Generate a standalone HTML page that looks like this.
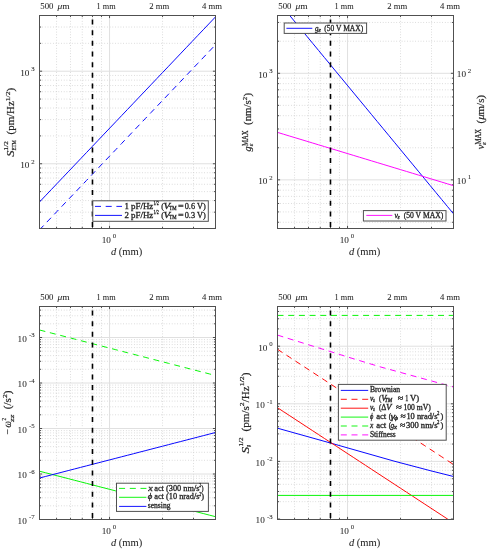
<!DOCTYPE html>
<html><head><meta charset="utf-8"><style>
html,body{margin:0;padding:0;background:#fff;width:490px;height:550px;overflow:hidden}
svg{display:block;filter:blur(0.45px)}
text{font-family:"Liberation Serif",serif;fill:#262626;stroke:#262626;stroke-width:0.05px}
.yl text{stroke-width:0.2px}
.lg{stroke-width:0.3px}
</style></head><body>
<svg width="490" height="550" viewBox="0 0 490 550">
<rect width="490" height="550" fill="#fff"/>
<defs><clipPath id="cp1"><rect x="39.5" y="15.5" width="176" height="213"/></clipPath><clipPath id="cp2"><rect x="277.5" y="15.5" width="176" height="213"/></clipPath><clipPath id="cp3"><rect x="39.5" y="306.5" width="176" height="213"/></clipPath><clipPath id="cp4"><rect x="277.5" y="306.5" width="176" height="213"/></clipPath></defs>
<path d="M56.56 15.5V228.5M70.49 15.5V228.5M82.27 15.5V228.5M92.48 15.5V228.5M101.48 15.5V228.5M162.52 15.5V228.5M193.51 15.5V228.5M39.5 212.16H215.5M39.5 200.59H215.5M39.5 191.62H215.5M39.5 184.29H215.5M39.5 178.1H215.5M39.5 172.73H215.5M39.5 168H215.5M39.5 135.9H215.5M39.5 119.6H215.5M39.5 108.03H215.5M39.5 99.06H215.5M39.5 91.73H215.5M39.5 85.54H215.5M39.5 80.17H215.5M39.5 75.44H215.5M39.5 43.34H215.5M39.5 27.04H215.5" stroke="#cacaca" stroke-width="0.8" stroke-dasharray="0.8 1.9" fill="none"/>
<path d="M109.54 15.5V228.5M39.5 163.76H215.5M39.5 71.2H215.5" stroke="#e0e0e0" stroke-width="1" fill="none"/>
<path d="M56.56 228.5v-1.6M56.56 15.5v1.6M70.49 228.5v-1.6M70.49 15.5v1.6M82.27 228.5v-1.6M82.27 15.5v1.6M92.48 228.5v-1.6M92.48 15.5v1.6M101.48 228.5v-1.6M101.48 15.5v1.6M162.52 228.5v-1.6M162.52 15.5v1.6M193.51 228.5v-1.6M193.51 15.5v1.6M215.5 228.5v-1.6M215.5 15.5v1.6M109.54 228.5v-2.6M109.54 15.5v2.6M39.5 228.46h1.6M215.5 228.46h-1.6M39.5 212.16h1.6M215.5 212.16h-1.6M39.5 200.59h1.6M215.5 200.59h-1.6M39.5 191.62h1.6M215.5 191.62h-1.6M39.5 184.29h1.6M215.5 184.29h-1.6M39.5 178.1h1.6M215.5 178.1h-1.6M39.5 172.73h1.6M215.5 172.73h-1.6M39.5 168h1.6M215.5 168h-1.6M39.5 135.9h1.6M215.5 135.9h-1.6M39.5 119.6h1.6M215.5 119.6h-1.6M39.5 108.03h1.6M215.5 108.03h-1.6M39.5 99.06h1.6M215.5 99.06h-1.6M39.5 91.73h1.6M215.5 91.73h-1.6M39.5 85.54h1.6M215.5 85.54h-1.6M39.5 80.17h1.6M215.5 80.17h-1.6M39.5 75.44h1.6M215.5 75.44h-1.6M39.5 43.34h1.6M215.5 43.34h-1.6M39.5 27.04h1.6M215.5 27.04h-1.6M39.5 163.76h2.6M215.5 163.76h-2.6M39.5 71.2h2.6M215.5 71.2h-2.6" stroke="#505050" stroke-width="1" fill="none"/>
<g clip-path="url(#cp1)">
<path d="M39.5 202L45.37 195.83L51.23 189.66L57.1 183.49L62.97 177.32L68.83 171.15L74.7 164.98L80.57 158.81L86.43 152.64L92.3 146.46L98.17 140.29L104.03 134.12L109.9 127.95L115.77 121.78L121.63 115.61L127.5 109.44L133.37 103.27L139.23 97.1L145.1 90.93L150.97 84.76L156.83 78.59L162.7 72.42L168.57 66.25L174.43 60.08L180.3 53.9L186.17 47.73L192.03 41.56L197.9 35.39L203.77 29.22L209.63 23.05L215.5 16.88" stroke="#0808ff" stroke-width="1.0" fill="none"/>
<path d="M39.5 229.86L45.37 223.69L51.23 217.52L57.1 211.35L62.97 205.18L68.83 199.01L74.7 192.84L80.57 186.67L86.43 180.5L92.3 174.33L98.17 168.16L104.03 161.99L109.9 155.82L115.77 149.65L121.63 143.47L127.5 137.3L133.37 131.13L139.23 124.96L145.1 118.79L150.97 112.62L156.83 106.45L162.7 100.28L168.57 94.11L174.43 87.94L180.3 81.77L186.17 75.6L192.03 69.43L197.9 63.26L203.77 57.09L209.63 50.91L215.5 44.74" stroke="#0808ff" stroke-width="1.0" fill="none" stroke-dasharray="6 4.7"/>
<path d="M92.48 15.5V228.5" stroke="#000" stroke-width="1.6" stroke-dasharray="5 5.66" stroke-dashoffset="6.66" fill="none"/>
</g>
<rect x="39.5" y="15.5" width="176" height="213" fill="none" stroke="#505050" stroke-width="1"/>
<path d="M294.56 15.5V228.5M308.49 15.5V228.5M320.27 15.5V228.5M330.48 15.5V228.5M339.48 15.5V228.5M400.52 15.5V228.5M431.51 15.5V228.5M277.5 222.25H453.5M277.5 211.92H453.5M277.5 203.49H453.5M277.5 196.35H453.5M277.5 190.18H453.5M277.5 184.73H453.5M277.5 147.78H453.5M277.5 129.01H453.5M277.5 115.7H453.5M277.5 105.37H453.5M277.5 96.94H453.5M277.5 89.8H453.5M277.5 83.63H453.5M277.5 78.18H453.5M277.5 41.23H453.5M277.5 22.46H453.5" stroke="#cacaca" stroke-width="0.8" stroke-dasharray="0.8 1.9" fill="none"/>
<path d="M347.54 15.5V228.5M277.5 179.85H453.5M277.5 73.3H453.5" stroke="#e0e0e0" stroke-width="1" fill="none"/>
<path d="M294.56 228.5v-1.6M294.56 15.5v1.6M308.49 228.5v-1.6M308.49 15.5v1.6M320.27 228.5v-1.6M320.27 15.5v1.6M330.48 228.5v-1.6M330.48 15.5v1.6M339.48 228.5v-1.6M339.48 15.5v1.6M400.52 228.5v-1.6M400.52 15.5v1.6M431.51 228.5v-1.6M431.51 15.5v1.6M453.5 228.5v-1.6M453.5 15.5v1.6M347.54 228.5v-2.6M347.54 15.5v2.6M277.5 222.25h1.6M277.5 211.92h1.6M277.5 203.49h1.6M277.5 196.35h1.6M277.5 190.18h1.6M277.5 184.73h1.6M277.5 147.78h1.6M277.5 129.01h1.6M277.5 115.7h1.6M277.5 105.37h1.6M277.5 96.94h1.6M277.5 89.8h1.6M277.5 83.63h1.6M277.5 78.18h1.6M277.5 41.23h1.6M277.5 22.46h1.6M277.5 179.85h2.6M277.5 73.3h2.6M453.5 222.25h-1.6M453.5 211.92h-1.6M453.5 203.49h-1.6M453.5 196.35h-1.6M453.5 190.18h-1.6M453.5 184.73h-1.6M453.5 147.78h-1.6M453.5 129.01h-1.6M453.5 115.7h-1.6M453.5 105.37h-1.6M453.5 96.94h-1.6M453.5 89.8h-1.6M453.5 83.63h-1.6M453.5 78.18h-1.6M453.5 41.23h-1.6M453.5 22.46h-1.6M453.5 179.85h-2.6M453.5 73.3h-2.6" stroke="#505050" stroke-width="1" fill="none"/>
<g clip-path="url(#cp2)">
<path d="M277.5 0.71L283.37 7.82L289.23 14.92L295.1 22.02L300.97 29.13L306.83 36.23L312.7 43.33L318.57 50.44L324.43 57.54L330.3 64.64L336.17 71.75L342.03 78.85L347.9 85.95L353.77 93.06L359.63 100.16L365.5 107.26L371.37 114.37L377.23 121.47L383.1 128.57L388.97 135.68L394.83 142.78L400.7 149.88L406.57 156.99L412.43 164.09L418.3 171.19L424.17 178.3L430.03 185.4L435.9 192.5L441.77 199.61L447.63 206.71L453.5 213.81" stroke="#0808ff" stroke-width="1.0" fill="none"/>
<path d="M277.5 132.39L283.37 134.16L289.23 135.94L295.1 137.71L300.97 139.49L306.83 141.26L312.7 143.04L318.57 144.82L324.43 146.59L330.3 148.37L336.17 150.14L342.03 151.92L347.9 153.7L353.77 155.47L359.63 157.25L365.5 159.02L371.37 160.8L377.23 162.57L383.1 164.35L388.97 166.13L394.83 167.9L400.7 169.68L406.57 171.45L412.43 173.23L418.3 175.01L424.17 176.78L430.03 178.56L435.9 180.33L441.77 182.11L447.63 183.88L453.5 185.66" stroke="#ff08ff" stroke-width="1.0" fill="none"/>
<path d="M330.48 15.5V228.5" stroke="#000" stroke-width="1.6" stroke-dasharray="5 5.66" stroke-dashoffset="6.66" fill="none"/>
</g>
<rect x="277.5" y="15.5" width="176" height="213" fill="none" stroke="#505050" stroke-width="1"/>
<path d="M56.56 306.5V519.5M70.49 306.5V519.5M82.27 306.5V519.5M92.48 306.5V519.5M101.48 306.5V519.5M162.52 306.5V519.5M193.51 306.5V519.5M39.5 505.8H215.5M39.5 497.79H215.5M39.5 492.11H215.5M39.5 487.7H215.5M39.5 484.09H215.5M39.5 481.05H215.5M39.5 478.41H215.5M39.5 476.08H215.5M39.5 460.3H215.5M39.5 452.29H215.5M39.5 446.61H215.5M39.5 442.2H215.5M39.5 438.59H215.5M39.5 435.55H215.5M39.5 432.91H215.5M39.5 430.58H215.5M39.5 414.8H215.5M39.5 406.79H215.5M39.5 401.11H215.5M39.5 396.7H215.5M39.5 393.09H215.5M39.5 390.05H215.5M39.5 387.41H215.5M39.5 385.08H215.5M39.5 369.3H215.5M39.5 361.29H215.5M39.5 355.61H215.5M39.5 351.2H215.5M39.5 347.59H215.5M39.5 344.55H215.5M39.5 341.91H215.5M39.5 339.58H215.5M39.5 323.8H215.5M39.5 315.79H215.5M39.5 310.11H215.5" stroke="#cacaca" stroke-width="0.8" stroke-dasharray="0.8 1.9" fill="none"/>
<path d="M109.54 306.5V519.5M39.5 474H215.5M39.5 428.5H215.5M39.5 383H215.5M39.5 337.5H215.5" stroke="#e0e0e0" stroke-width="1" fill="none"/>
<path d="M56.56 519.5v-1.6M56.56 306.5v1.6M70.49 519.5v-1.6M70.49 306.5v1.6M82.27 519.5v-1.6M82.27 306.5v1.6M92.48 519.5v-1.6M92.48 306.5v1.6M101.48 519.5v-1.6M101.48 306.5v1.6M162.52 519.5v-1.6M162.52 306.5v1.6M193.51 519.5v-1.6M193.51 306.5v1.6M215.5 519.5v-1.6M215.5 306.5v1.6M109.54 519.5v-2.6M109.54 306.5v2.6M39.5 505.8h1.6M215.5 505.8h-1.6M39.5 497.79h1.6M215.5 497.79h-1.6M39.5 492.11h1.6M215.5 492.11h-1.6M39.5 487.7h1.6M215.5 487.7h-1.6M39.5 484.09h1.6M215.5 484.09h-1.6M39.5 481.05h1.6M215.5 481.05h-1.6M39.5 478.41h1.6M215.5 478.41h-1.6M39.5 476.08h1.6M215.5 476.08h-1.6M39.5 460.3h1.6M215.5 460.3h-1.6M39.5 452.29h1.6M215.5 452.29h-1.6M39.5 446.61h1.6M215.5 446.61h-1.6M39.5 442.2h1.6M215.5 442.2h-1.6M39.5 438.59h1.6M215.5 438.59h-1.6M39.5 435.55h1.6M215.5 435.55h-1.6M39.5 432.91h1.6M215.5 432.91h-1.6M39.5 430.58h1.6M215.5 430.58h-1.6M39.5 414.8h1.6M215.5 414.8h-1.6M39.5 406.79h1.6M215.5 406.79h-1.6M39.5 401.11h1.6M215.5 401.11h-1.6M39.5 396.7h1.6M215.5 396.7h-1.6M39.5 393.09h1.6M215.5 393.09h-1.6M39.5 390.05h1.6M215.5 390.05h-1.6M39.5 387.41h1.6M215.5 387.41h-1.6M39.5 385.08h1.6M215.5 385.08h-1.6M39.5 369.3h1.6M215.5 369.3h-1.6M39.5 361.29h1.6M215.5 361.29h-1.6M39.5 355.61h1.6M215.5 355.61h-1.6M39.5 351.2h1.6M215.5 351.2h-1.6M39.5 347.59h1.6M215.5 347.59h-1.6M39.5 344.55h1.6M215.5 344.55h-1.6M39.5 341.91h1.6M215.5 341.91h-1.6M39.5 339.58h1.6M215.5 339.58h-1.6M39.5 323.8h1.6M215.5 323.8h-1.6M39.5 315.79h1.6M215.5 315.79h-1.6M39.5 310.11h1.6M215.5 310.11h-1.6M39.5 519.5h2.6M215.5 519.5h-2.6M39.5 474h2.6M215.5 474h-2.6M39.5 428.5h2.6M215.5 428.5h-2.6M39.5 383h2.6M215.5 383h-2.6M39.5 337.5h2.6M215.5 337.5h-2.6" stroke="#505050" stroke-width="1" fill="none"/>
<g clip-path="url(#cp3)">
<path d="M39.5 329.99L45.37 331.5L51.23 333.02L57.1 334.54L62.97 336.05L68.83 337.57L74.7 339.09L80.57 340.6L86.43 342.12L92.3 343.64L98.17 345.15L104.03 346.67L109.9 348.19L115.77 349.7L121.63 351.22L127.5 352.74L133.37 354.25L139.23 355.77L145.1 357.29L150.97 358.8L156.83 360.32L162.7 361.84L168.57 363.35L174.43 364.87L180.3 366.39L186.17 367.9L192.03 369.42L197.9 370.94L203.77 372.45L209.63 373.97L215.5 375.49" stroke="#08f508" stroke-width="1.0" fill="none" stroke-dasharray="6 4.7"/>
<path d="M39.5 471.2L45.37 472.71L51.23 474.23L57.1 475.75L62.97 477.26L68.83 478.78L74.7 480.3L80.57 481.81L86.43 483.33L92.3 484.85L98.17 486.36L104.03 487.88L109.9 489.4L115.77 490.91L121.63 492.43L127.5 493.95L133.37 495.46L139.23 496.98L145.1 498.5L150.97 500.01L156.83 501.53L162.7 503.05L168.57 504.56L174.43 506.08L180.3 507.6L186.17 509.11L192.03 510.63L197.9 512.15L203.77 513.66L209.63 515.18L215.5 516.7" stroke="#08f508" stroke-width="1.0" fill="none"/>
<path d="M39.5 478.02L45.37 476.5L51.23 474.98L57.1 473.47L62.97 471.95L68.83 470.43L74.7 468.92L80.57 467.4L86.43 465.88L92.3 464.37L98.17 462.85L104.03 461.33L109.9 459.82L115.77 458.3L121.63 456.78L127.5 455.27L133.37 453.75L139.23 452.23L145.1 450.72L150.97 449.2L156.83 447.68L162.7 446.17L168.57 444.65L174.43 443.13L180.3 441.62L186.17 440.1L192.03 438.58L197.9 437.07L203.77 435.55L209.63 434.03L215.5 432.52" stroke="#0808ff" stroke-width="1.0" fill="none"/>
<path d="M92.48 306.5V519.5" stroke="#000" stroke-width="1.6" stroke-dasharray="5 5.66" stroke-dashoffset="6.66" fill="none"/>
</g>
<rect x="39.5" y="306.5" width="176" height="213" fill="none" stroke="#505050" stroke-width="1"/>
<path d="M294.56 306.5V519.5M308.49 306.5V519.5M320.27 306.5V519.5M330.48 306.5V519.5M339.48 306.5V519.5M400.52 306.5V519.5M431.51 306.5V519.5M277.5 501.66H453.5M277.5 491.52H453.5M277.5 484.32H453.5M277.5 478.74H453.5M277.5 474.18H453.5M277.5 470.32H453.5M277.5 466.98H453.5M277.5 464.04H453.5M277.5 444.06H453.5M277.5 433.92H453.5M277.5 426.72H453.5M277.5 421.14H453.5M277.5 416.58H453.5M277.5 412.72H453.5M277.5 409.38H453.5M277.5 406.44H453.5M277.5 386.46H453.5M277.5 376.32H453.5M277.5 369.12H453.5M277.5 363.54H453.5M277.5 358.98H453.5M277.5 355.12H453.5M277.5 351.78H453.5M277.5 348.84H453.5M277.5 328.86H453.5M277.5 318.72H453.5M277.5 311.52H453.5" stroke="#cacaca" stroke-width="0.8" stroke-dasharray="0.8 1.9" fill="none"/>
<path d="M347.54 306.5V519.5M277.5 461.4H453.5M277.5 403.8H453.5M277.5 346.2H453.5" stroke="#e0e0e0" stroke-width="1" fill="none"/>
<path d="M294.56 519.5v-1.6M294.56 306.5v1.6M308.49 519.5v-1.6M308.49 306.5v1.6M320.27 519.5v-1.6M320.27 306.5v1.6M330.48 519.5v-1.6M330.48 306.5v1.6M339.48 519.5v-1.6M339.48 306.5v1.6M400.52 519.5v-1.6M400.52 306.5v1.6M431.51 519.5v-1.6M431.51 306.5v1.6M453.5 519.5v-1.6M453.5 306.5v1.6M347.54 519.5v-2.6M347.54 306.5v2.6M277.5 501.66h1.6M453.5 501.66h-1.6M277.5 491.52h1.6M453.5 491.52h-1.6M277.5 484.32h1.6M453.5 484.32h-1.6M277.5 478.74h1.6M453.5 478.74h-1.6M277.5 474.18h1.6M453.5 474.18h-1.6M277.5 470.32h1.6M453.5 470.32h-1.6M277.5 466.98h1.6M453.5 466.98h-1.6M277.5 464.04h1.6M453.5 464.04h-1.6M277.5 444.06h1.6M453.5 444.06h-1.6M277.5 433.92h1.6M453.5 433.92h-1.6M277.5 426.72h1.6M453.5 426.72h-1.6M277.5 421.14h1.6M453.5 421.14h-1.6M277.5 416.58h1.6M453.5 416.58h-1.6M277.5 412.72h1.6M453.5 412.72h-1.6M277.5 409.38h1.6M453.5 409.38h-1.6M277.5 406.44h1.6M453.5 406.44h-1.6M277.5 386.46h1.6M453.5 386.46h-1.6M277.5 376.32h1.6M453.5 376.32h-1.6M277.5 369.12h1.6M453.5 369.12h-1.6M277.5 363.54h1.6M453.5 363.54h-1.6M277.5 358.98h1.6M453.5 358.98h-1.6M277.5 355.12h1.6M453.5 355.12h-1.6M277.5 351.78h1.6M453.5 351.78h-1.6M277.5 348.84h1.6M453.5 348.84h-1.6M277.5 328.86h1.6M453.5 328.86h-1.6M277.5 318.72h1.6M453.5 318.72h-1.6M277.5 311.52h1.6M453.5 311.52h-1.6M277.5 519h2.6M453.5 519h-2.6M277.5 461.4h2.6M453.5 461.4h-2.6M277.5 403.8h2.6M453.5 403.8h-2.6M277.5 346.2h2.6M453.5 346.2h-2.6" stroke="#505050" stroke-width="1" fill="none"/>
<g clip-path="url(#cp4)">
<path d="M277.5 428.2L330 442.9L394 461.1L430 470.6L453.5 476.5" stroke="#0808ff" stroke-width="1.0" fill="none"/>
<path d="M277.5 349.31L283.37 353.15L289.23 356.99L295.1 360.83L300.97 364.67L306.83 368.51L312.7 372.35L318.57 376.19L324.43 380.03L330.3 383.87L336.17 387.71L342.03 391.55L347.9 395.39L353.77 399.23L359.63 403.07L365.5 406.91L371.37 410.75L377.23 414.59L383.1 418.43L388.97 422.27L394.83 426.11L400.7 429.95L406.57 433.79L412.43 437.63L418.3 441.47L424.17 445.31L430.03 449.15L435.9 452.99L441.77 456.83L447.63 460.67L453.5 464.51" stroke="#ff0808" stroke-width="1.0" fill="none" stroke-dasharray="6 4.7"/>
<path d="M277.5 407.72L283.37 411.56L289.23 415.4L295.1 419.24L300.97 423.08L306.83 426.92L312.7 430.76L318.57 434.6L324.43 438.44L330.3 442.28L336.17 446.12L342.03 449.96L347.9 453.8L353.77 457.64L359.63 461.48L365.5 465.32L371.37 469.16L377.23 473L383.1 476.84L388.97 480.68L394.83 484.52L400.7 488.36L406.57 492.2L412.43 496.04L418.3 499.88L424.17 503.72L430.03 507.56L435.9 511.4L441.77 515.24L447.63 519.08L453.5 522.92" stroke="#ff0808" stroke-width="1.0" fill="none"/>
<path d="M277.5 495.4H453.5" stroke="#08f508" stroke-width="1.0"/>
<path d="M277.5 315.4H453.5" stroke="#08f508" stroke-width="1.0" stroke-dasharray="6 4.7"/>
<path d="M277.5 335.1L352 358.3L380 366.8L453.5 387" stroke="#ff08ff" stroke-width="1.0" fill="none" stroke-dasharray="6 4.7"/>
<path d="M330.48 306.5V519.5" stroke="#000" stroke-width="1.6" stroke-dasharray="5 5.66" stroke-dashoffset="6.66" fill="none"/>
</g>
<rect x="277.5" y="306.5" width="176" height="213" fill="none" stroke="#505050" stroke-width="1"/>
<text x="40.3" y="9.4" font-size="9" textLength="13.2" lengthAdjust="spacingAndGlyphs">500</text>
<text x="57.4" y="9.4" font-size="9" textLength="12.2" lengthAdjust="spacingAndGlyphs"><tspan font-style="italic">μ</tspan>m</text>
<text x="96.6" y="9.4" font-size="9" textLength="19" lengthAdjust="spacingAndGlyphs">1 mm</text>
<text x="149.2" y="9.4" font-size="9" textLength="20" lengthAdjust="spacingAndGlyphs">2 mm</text>
<text x="201.9" y="9.4" font-size="9" textLength="20" lengthAdjust="spacingAndGlyphs">4 mm</text>
<text x="101.7" y="243" font-size="9.2">10<tspan font-size="6.8" dx="1.8" dy="-4.6">0</tspan></text>
<text x="110.9" y="254.8" font-size="10" textLength="31.4" lengthAdjust="spacingAndGlyphs"><tspan font-style="italic">d</tspan> (mm)</text>
<text x="278.3" y="9.4" font-size="9" textLength="13.2" lengthAdjust="spacingAndGlyphs">500</text>
<text x="295.4" y="9.4" font-size="9" textLength="12.2" lengthAdjust="spacingAndGlyphs"><tspan font-style="italic">μ</tspan>m</text>
<text x="334.6" y="9.4" font-size="9" textLength="19" lengthAdjust="spacingAndGlyphs">1 mm</text>
<text x="387.2" y="9.4" font-size="9" textLength="20" lengthAdjust="spacingAndGlyphs">2 mm</text>
<text x="439.9" y="9.4" font-size="9" textLength="20" lengthAdjust="spacingAndGlyphs">4 mm</text>
<text x="339.7" y="243" font-size="9.2">10<tspan font-size="6.8" dx="1.8" dy="-4.6">0</tspan></text>
<text x="348.9" y="254.8" font-size="10" textLength="31.4" lengthAdjust="spacingAndGlyphs"><tspan font-style="italic">d</tspan> (mm)</text>
<text x="40.3" y="300.4" font-size="9" textLength="13.2" lengthAdjust="spacingAndGlyphs">500</text>
<text x="57.4" y="300.4" font-size="9" textLength="12.2" lengthAdjust="spacingAndGlyphs"><tspan font-style="italic">μ</tspan>m</text>
<text x="96.6" y="300.4" font-size="9" textLength="19" lengthAdjust="spacingAndGlyphs">1 mm</text>
<text x="149.2" y="300.4" font-size="9" textLength="20" lengthAdjust="spacingAndGlyphs">2 mm</text>
<text x="201.9" y="300.4" font-size="9" textLength="20" lengthAdjust="spacingAndGlyphs">4 mm</text>
<text x="101.7" y="534" font-size="9.2">10<tspan font-size="6.8" dx="1.8" dy="-4.6">0</tspan></text>
<text x="110.9" y="545.8" font-size="10" textLength="31.4" lengthAdjust="spacingAndGlyphs"><tspan font-style="italic">d</tspan> (mm)</text>
<text x="278.3" y="300.4" font-size="9" textLength="13.2" lengthAdjust="spacingAndGlyphs">500</text>
<text x="295.4" y="300.4" font-size="9" textLength="12.2" lengthAdjust="spacingAndGlyphs"><tspan font-style="italic">μ</tspan>m</text>
<text x="334.6" y="300.4" font-size="9" textLength="19" lengthAdjust="spacingAndGlyphs">1 mm</text>
<text x="387.2" y="300.4" font-size="9" textLength="20" lengthAdjust="spacingAndGlyphs">2 mm</text>
<text x="439.9" y="300.4" font-size="9" textLength="20" lengthAdjust="spacingAndGlyphs">4 mm</text>
<text x="339.7" y="534" font-size="9.2">10<tspan font-size="6.8" dx="1.8" dy="-4.6">0</tspan></text>
<text x="348.9" y="545.8" font-size="10" textLength="31.4" lengthAdjust="spacingAndGlyphs"><tspan font-style="italic">d</tspan> (mm)</text>
<text x="34.6" y="75.6" font-size="9.2" text-anchor="end">10<tspan font-size="6.8" dx="1.8" dy="-4.6">3</tspan></text>
<text x="272.6" y="77.7" font-size="9.2" text-anchor="end">10<tspan font-size="6.8" dx="1.8" dy="-4.6">3</tspan></text>
<text x="34.6" y="168.16" font-size="9.2" text-anchor="end">10<tspan font-size="6.8" dx="1.8" dy="-4.6">2</tspan></text>
<text x="272.6" y="184.25" font-size="9.2" text-anchor="end">10<tspan font-size="6.8" dx="1.8" dy="-4.6">2</tspan></text>
<text x="456.8" y="77.3" font-size="9.2">10<tspan font-size="6.8" dx="1.8" dy="-4.6">2</tspan></text>
<text x="456.8" y="183.85" font-size="9.2">10<tspan font-size="6.8" dx="1.8" dy="-4.6">1</tspan></text>
<text x="34.6" y="341.9" font-size="9.2" text-anchor="end">10<tspan font-size="6.8" dx="2.2" dy="-4.6">‐3</tspan></text>
<text x="34.6" y="387.4" font-size="9.2" text-anchor="end">10<tspan font-size="6.8" dx="2.2" dy="-4.6">‐4</tspan></text>
<text x="34.6" y="432.9" font-size="9.2" text-anchor="end">10<tspan font-size="6.8" dx="2.2" dy="-4.6">‐5</tspan></text>
<text x="34.6" y="478.4" font-size="9.2" text-anchor="end">10<tspan font-size="6.8" dx="2.2" dy="-4.6">‐6</tspan></text>
<text x="34.6" y="523.9" font-size="9.2" text-anchor="end">10<tspan font-size="6.8" dx="2.2" dy="-4.6">‐7</tspan></text>
<text x="272.6" y="350.6" font-size="9.2" text-anchor="end">10<tspan font-size="6.8" dx="1.8" dy="-4.6">0</tspan></text>
<text x="272.6" y="408.2" font-size="9.2" text-anchor="end">10<tspan font-size="6.8" dx="2.2" dy="-4.6">‐1</tspan></text>
<text x="272.6" y="465.8" font-size="9.2" text-anchor="end">10<tspan font-size="6.8" dx="2.2" dy="-4.6">‐2</tspan></text>
<text x="272.6" y="523.4" font-size="9.2" text-anchor="end">10<tspan font-size="6.8" dx="2.2" dy="-4.6">‐3</tspan></text>
<g class="yl" transform="translate(13.8 600) rotate(-90)"><text x="443.2" y="0" font-size="10" font-style="italic" textLength="6.2" lengthAdjust="spacingAndGlyphs">S</text><text x="449.6" y="-5.7" font-size="7" textLength="9.1" lengthAdjust="spacingAndGlyphs">1/2</text><text x="449.6" y="1.8" font-size="5.5" textLength="10.3" lengthAdjust="spacingAndGlyphs">ETM</text><text x="465.6" y="0" font-size="10" textLength="46.5" lengthAdjust="spacingAndGlyphs">(pm/Hz<tspan font-size="7" dy="-4.3">1/2</tspan><tspan dy="4.3">)</tspan></text></g>
<g class="yl" transform="translate(251 600) rotate(-90)"><text x="448.4" y="0" font-size="10" font-style="italic" textLength="5.1" lengthAdjust="spacingAndGlyphs">g</text><text x="454.1" y="-3.2" font-size="7.2" textLength="15.5" lengthAdjust="spacingAndGlyphs">MAX</text><text x="453.8" y="2" font-size="7" font-style="italic" textLength="2.6" lengthAdjust="spacingAndGlyphs">ε</text><text x="475.1" y="0" font-size="10" textLength="31.9" lengthAdjust="spacingAndGlyphs">(nm/s<tspan font-size="7" dy="-4.3">2</tspan><tspan dy="4.3">)</tspan></text></g>
<g class="yl" transform="translate(484 600) rotate(-90)"><text x="450.8" y="0" font-size="10" font-style="italic" textLength="4.6" lengthAdjust="spacingAndGlyphs">v</text><text x="454.9" y="2.4" font-size="7" font-style="italic" textLength="2.7" lengthAdjust="spacingAndGlyphs">ε</text><text x="455.6" y="-3.3" font-size="7.2" textLength="15.6" lengthAdjust="spacingAndGlyphs">MAX</text><text x="476.5" y="0" font-size="10" textLength="28.5" lengthAdjust="spacingAndGlyphs">(<tspan font-style="italic">μ</tspan>m/s)</text></g>
<g class="yl" transform="translate(11.3 600) rotate(-90)"><text x="165.4" y="0" font-size="10" textLength="5.5" lengthAdjust="spacingAndGlyphs">−</text><text x="172.5" y="0" font-size="10" font-style="italic" textLength="6.4" lengthAdjust="spacingAndGlyphs">ω</text><text x="179.5" y="-5.6" font-size="7" textLength="2.5" lengthAdjust="spacingAndGlyphs">2</text><text x="178.1" y="2.7" font-size="7" font-style="italic" textLength="7.4" lengthAdjust="spacingAndGlyphs">zz</text><text x="190.8" y="0" font-size="10" textLength="18.7" lengthAdjust="spacingAndGlyphs">(/s<tspan font-size="7" dy="-4.3">2</tspan><tspan dy="4.3">)</tspan></text></g>
<g class="yl" transform="translate(248.6 600) rotate(-90)"><text x="146.6" y="0" font-size="10" font-style="italic" textLength="6.6" lengthAdjust="spacingAndGlyphs">S</text><text x="153.4" y="-5.7" font-size="7" textLength="9.3" lengthAdjust="spacingAndGlyphs">1/2</text><text x="153" y="1.4" font-size="7" font-style="italic" textLength="2.1" lengthAdjust="spacingAndGlyphs">g</text><text x="168.6" y="0" font-size="10" textLength="58.8" lengthAdjust="spacingAndGlyphs">(pm/s<tspan font-size="7" dy="-4.3">2</tspan><tspan dy="4.3">/Hz</tspan><tspan font-size="7" dy="-4.3">1/2</tspan><tspan dy="4.3">)</tspan></text></g>
<rect x="92.8" y="200.8" width="115.5" height="20.5" fill="#fff" stroke="#505050" stroke-width="1"/>
<path d="M95 206.4H122" stroke="#0808ff" stroke-width="0.95" stroke-dasharray="6 4.7"/>
<path d="M95 215.4H122" stroke="#0808ff" stroke-width="0.95"/>
<text class="lg" x="124.4" y="208.6" font-size="8" textLength="28.9" lengthAdjust="spacingAndGlyphs">1 pF/Hz</text>
<text class="lg" x="153.6" y="204.84" font-size="5.6" textLength="5.1" lengthAdjust="spacingAndGlyphs">1/2</text>
<text class="lg" x="161.2" y="208.6" font-size="8" textLength="2.7" lengthAdjust="spacingAndGlyphs">(</text>
<text class="lg" x="163.4" y="208.6" font-size="8" font-style="italic" textLength="6.6" lengthAdjust="spacingAndGlyphs">V</text>
<text class="lg" x="169.2" y="209.72" font-size="5.6" textLength="7.3" lengthAdjust="spacingAndGlyphs">TM</text>
<text class="lg" x="178.1" y="208.6" font-size="8" textLength="5.7" lengthAdjust="spacingAndGlyphs">=</text>
<text class="lg" x="184.7" y="208.6" font-size="8" textLength="21" lengthAdjust="spacingAndGlyphs">0.6 V)</text>
<text class="lg" x="124.4" y="217.7" font-size="8" textLength="28.9" lengthAdjust="spacingAndGlyphs">2 pF/Hz</text>
<text class="lg" x="153.6" y="213.94" font-size="5.6" textLength="5.1" lengthAdjust="spacingAndGlyphs">1/2</text>
<text class="lg" x="161.2" y="217.7" font-size="8" textLength="2.7" lengthAdjust="spacingAndGlyphs">(</text>
<text class="lg" x="163.4" y="217.7" font-size="8" font-style="italic" textLength="6.6" lengthAdjust="spacingAndGlyphs">V</text>
<text class="lg" x="169.2" y="218.82" font-size="5.6" textLength="7.3" lengthAdjust="spacingAndGlyphs">TM</text>
<text class="lg" x="178.1" y="217.7" font-size="8" textLength="5.7" lengthAdjust="spacingAndGlyphs">=</text>
<text class="lg" x="184.7" y="217.7" font-size="8" textLength="21" lengthAdjust="spacingAndGlyphs">0.3 V)</text>
<rect x="284.2" y="23" width="82.4" height="10.4" fill="#fff" stroke="#505050" stroke-width="1"/>
<path d="M286.4 28.3H312.3" stroke="#0808ff" stroke-width="0.95"/>
<text class="lg" x="315.1" y="31" font-size="8" font-style="italic" textLength="3.5" lengthAdjust="spacingAndGlyphs">g</text>
<text class="lg" x="318.3" y="32.12" font-size="5.6" font-style="italic" textLength="2.6" lengthAdjust="spacingAndGlyphs">ε</text>
<text class="lg" x="324.3" y="31" font-size="8" textLength="38.9" lengthAdjust="spacingAndGlyphs">(50 V MAX)</text>
<rect x="363.4" y="210.6" width="82.6" height="10.4" fill="#fff" stroke="#505050" stroke-width="1"/>
<path d="M366.3 215.4H392.3" stroke="#ff08ff" stroke-width="0.95"/>
<text class="lg" x="394.6" y="218.1" font-size="8" font-style="italic" textLength="3.4" lengthAdjust="spacingAndGlyphs">v</text>
<text class="lg" x="397.5" y="219.22" font-size="5.6" font-style="italic" textLength="2.2" lengthAdjust="spacingAndGlyphs">ε</text>
<text class="lg" x="403.7" y="218.1" font-size="8" textLength="39.5" lengthAdjust="spacingAndGlyphs">(50 V MAX)</text>
<rect x="116.5" y="483.2" width="91.9" height="28.2" fill="#fff" stroke="#505050" stroke-width="1"/>
<path d="M119.1 488.4H146.4" stroke="#08f508" stroke-width="0.95" stroke-dasharray="6 4.7"/>
<path d="M119.1 497.3H146.4" stroke="#08f508" stroke-width="0.95"/>
<path d="M119.1 506.4H146.4" stroke="#0808ff" stroke-width="0.95"/>
<text class="lg" x="148.3" y="490.6" font-size="7.8" font-style="italic" textLength="4.5" lengthAdjust="spacingAndGlyphs">x</text>
<text class="lg" x="154.2" y="490.6" font-size="7.8" textLength="45.3" lengthAdjust="spacingAndGlyphs">act (300 nm/s</text>
<text class="lg" x="199.2" y="486.92" font-size="5.46" textLength="1.9" lengthAdjust="spacingAndGlyphs">2</text>
<text class="lg" x="201.3" y="490.6" font-size="7.8" textLength="2.3" lengthAdjust="spacingAndGlyphs">)</text>
<text class="lg" x="147.7" y="499.4" font-size="7.8" font-style="italic" textLength="4.5" lengthAdjust="spacingAndGlyphs">ϕ</text>
<text class="lg" x="154.2" y="499.4" font-size="7.8" textLength="45.3" lengthAdjust="spacingAndGlyphs">act (10 nrad/s</text>
<text class="lg" x="199.2" y="495.72" font-size="5.46" textLength="1.9" lengthAdjust="spacingAndGlyphs">2</text>
<text class="lg" x="201.3" y="499.4" font-size="7.8" textLength="2.8" lengthAdjust="spacingAndGlyphs">)</text>
<text class="lg" x="147.7" y="508.2" font-size="7.8" textLength="22.8" lengthAdjust="spacingAndGlyphs">sensing</text>
<rect x="338.4" y="384.4" width="107.8" height="55.8" fill="#fff" stroke="#505050" stroke-width="1"/>
<path d="M340.8 390.4H368.2" stroke="#0808ff" stroke-width="0.95"/>
<path d="M340.8 399.3H368.2" stroke="#ff0808" stroke-width="0.95" stroke-dasharray="6 4.7"/>
<path d="M340.8 408.2H368.2" stroke="#ff0808" stroke-width="0.95"/>
<path d="M340.8 417.1H368.2" stroke="#08f508" stroke-width="0.95"/>
<path d="M340.8 426H368.2" stroke="#08f508" stroke-width="0.95" stroke-dasharray="6 4.7"/>
<path d="M340.8 434.9H368.2" stroke="#ff08ff" stroke-width="0.95" stroke-dasharray="6 4.7"/>
<text class="lg" x="369.9" y="392.2" font-size="7.6" textLength="30.3" lengthAdjust="spacingAndGlyphs">Brownian</text>
<text class="lg" x="369.9" y="401.1" font-size="7.6" font-style="italic" textLength="3.3" lengthAdjust="spacingAndGlyphs">v</text>
<text class="lg" x="372.9" y="402.14" font-size="5.32" font-style="italic" textLength="1.7" lengthAdjust="spacingAndGlyphs">a</text>
<text class="lg" x="378.9" y="401.1" font-size="7.6" textLength="2.4" lengthAdjust="spacingAndGlyphs">(</text>
<text class="lg" x="381.2" y="401.1" font-size="7.6" font-style="italic" textLength="5.1" lengthAdjust="spacingAndGlyphs">V</text>
<text class="lg" x="384.7" y="402.14" font-size="5.32" font-style="italic" textLength="7.4" lengthAdjust="spacingAndGlyphs">TM</text>
<text class="lg" x="397.8" y="401.2" font-size="8.74" textLength="5.5" lengthAdjust="spacingAndGlyphs">≈</text>
<text class="lg" x="405.2" y="401.1" font-size="7.6" textLength="3.1" lengthAdjust="spacingAndGlyphs">1</text>
<text class="lg" x="410" y="401.1" font-size="7.6" textLength="9.1" lengthAdjust="spacingAndGlyphs">V)</text>
<text class="lg" x="369.9" y="410" font-size="7.6" font-style="italic" textLength="3.3" lengthAdjust="spacingAndGlyphs">v</text>
<text class="lg" x="372.9" y="411.04" font-size="5.32" font-style="italic" textLength="1.7" lengthAdjust="spacingAndGlyphs">a</text>
<text class="lg" x="378.9" y="410" font-size="7.6" textLength="2.4" lengthAdjust="spacingAndGlyphs">(</text>
<text class="lg" x="381.2" y="410" font-size="7.6" textLength="5.1" lengthAdjust="spacingAndGlyphs">Δ</text>
<text class="lg" x="386.1" y="410" font-size="7.6" font-style="italic" textLength="5.5" lengthAdjust="spacingAndGlyphs">V</text>
<text class="lg" x="396" y="410.1" font-size="8.74" textLength="5.8" lengthAdjust="spacingAndGlyphs">≈</text>
<text class="lg" x="403.4" y="410" font-size="7.6" textLength="27.4" lengthAdjust="spacingAndGlyphs">100 mV)</text>
<text class="lg" x="369.9" y="418.9" font-size="7.6" font-style="italic" textLength="3.3" lengthAdjust="spacingAndGlyphs">ϕ</text>
<text class="lg" x="376.2" y="418.9" font-size="7.6" textLength="10.1" lengthAdjust="spacingAndGlyphs">act</text>
<text class="lg" x="388.8" y="418.9" font-size="7.6" textLength="2.4" lengthAdjust="spacingAndGlyphs">(</text>
<text class="lg" x="390.6" y="418.9" font-size="7.6" font-style="italic" textLength="4.6" lengthAdjust="spacingAndGlyphs">γ</text>
<text class="lg" x="394.2" y="419.94" font-size="5.32" font-style="italic" textLength="3.7" lengthAdjust="spacingAndGlyphs">ϕ</text>
<text class="lg" x="400.4" y="419" font-size="8.74" textLength="5.2" lengthAdjust="spacingAndGlyphs">≈</text>
<text class="lg" x="406.4" y="418.9" font-size="7.6" textLength="31.1" lengthAdjust="spacingAndGlyphs">10 nrad/s</text>
<text class="lg" x="436.9" y="415.31" font-size="5.32" textLength="2.4" lengthAdjust="spacingAndGlyphs">2</text>
<text class="lg" x="440.5" y="418.9" font-size="7.6" textLength="2.8" lengthAdjust="spacingAndGlyphs">)</text>
<text class="lg" x="369.9" y="427.8" font-size="7.6" font-style="italic" textLength="3.3" lengthAdjust="spacingAndGlyphs">x</text>
<text class="lg" x="376.2" y="427.8" font-size="7.6" textLength="10.1" lengthAdjust="spacingAndGlyphs">act</text>
<text class="lg" x="388.8" y="427.8" font-size="7.6" textLength="2.4" lengthAdjust="spacingAndGlyphs">(</text>
<text class="lg" x="390.6" y="427.8" font-size="7.6" font-style="italic" textLength="3.7" lengthAdjust="spacingAndGlyphs">g</text>
<text class="lg" x="393.7" y="428.84" font-size="5.32" font-style="italic" textLength="3.3" lengthAdjust="spacingAndGlyphs">x</text>
<text class="lg" x="400.1" y="427.9" font-size="8.74" textLength="5.3" lengthAdjust="spacingAndGlyphs">≈</text>
<text class="lg" x="405.9" y="427.8" font-size="7.6" textLength="31.6" lengthAdjust="spacingAndGlyphs">300 nm/s</text>
<text class="lg" x="436.9" y="424.21" font-size="5.32" textLength="2.4" lengthAdjust="spacingAndGlyphs">2</text>
<text class="lg" x="440.5" y="427.8" font-size="7.6" textLength="2.8" lengthAdjust="spacingAndGlyphs">)</text>
<text class="lg" x="369.9" y="436.7" font-size="7.6" textLength="25.8" lengthAdjust="spacingAndGlyphs">Stiffness</text>
</svg>
</body></html>
